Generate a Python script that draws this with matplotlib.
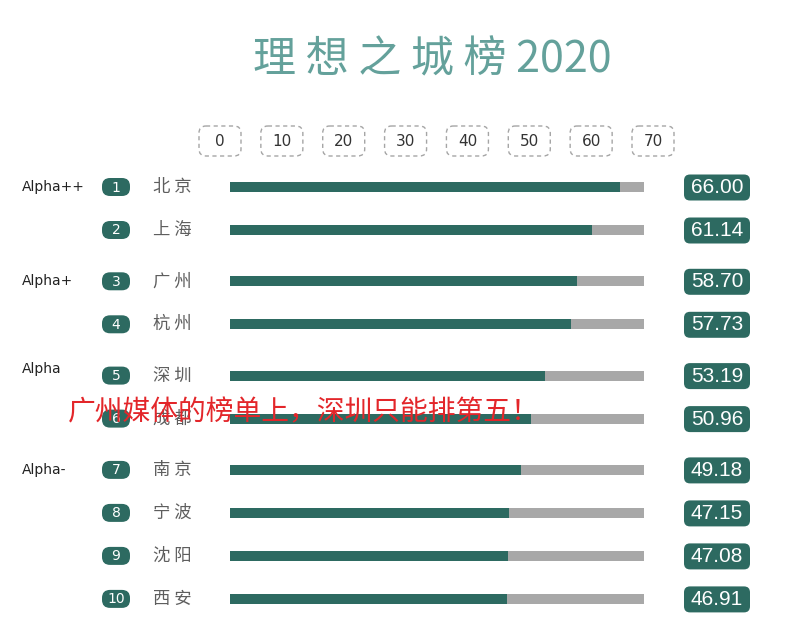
import matplotlib.pyplot as plt
from matplotlib.patches import FancyBboxPatch

plt.rcParams['font.family'] = ['Noto Sans CJK SC', 'DejaVu Sans']

# data
ranks = [1, 2, 3, 4, 5, 6, 7, 8, 9, 10]
cities = ['北 京', '上 海', '广 州', '杭 州', '深 圳', '成 都', '南 京', '宁 波', '沈 阳', '西 安']
scores = [66.00, 61.14, 58.70, 57.73, 53.19, 50.96, 49.18, 47.15, 47.08, 46.91]
groups = [0, 0, 1, 1, 2, 2, 3, 3, 3, 3]
group_names = ['Alpha++', 'Alpha+', 'Alpha', 'Alpha-']
ticks = [0, 10, 20, 30, 40, 50, 60, 70]
full_scale = 70
title = '理 想 之 城 榜 2020'
note = '广州媒体的榜单上，深圳只能排第五！'

TEAL = '#2d6a61'
GRAY = '#a8a8a8'
W, H = 799, 626

fig = plt.figure(figsize=(W / 100, H / 100), dpi=100)
fig.patch.set_facecolor('white')

# row centres in pixels (top = 0)
row_y = [187 + 43 * i + 8.3 * g for i, g in enumerate(groups)]

# bars axes: value 0 at x=230px, 70 at x=644px
ax = fig.add_axes([230 / W, 0, (644 - 230) / W, 1])
ax.set_xlim(0, full_scale)
ax.set_ylim(H, 0)
ax.axis('off')
ax.barh(row_y, [full_scale] * len(scores), height=10, color=GRAY, zorder=1)
ax.barh(row_y, scores, height=10, color=TEAL, zorder=2)

# overlay in pixel coordinates for the decorations
ov = fig.add_axes([0, 0, 1, 1], zorder=3)
ov.set_xlim(0, W)
ov.set_ylim(H, 0)
ov.axis('off')
ov.patch.set_alpha(0)

ov.text(432, 60, title, ha='center', va='center', fontsize=31,
        color='#64a19b', fontweight='light')

# dashed tick boxes (own spacing, as in the original)
for t in ticks:
    cx = 220 + t * (653 - 220) / 70
    ov.add_patch(FancyBboxPatch((cx - 18, 129), 36, 24,
                                boxstyle='round,pad=3,rounding_size=7',
                                fc='white', ec='#a5a5a5', lw=1, ls=(0, (3, 2.5))))
    ov.text(cx, 141.5, str(t), ha='center', va='center', fontsize=11,
            color='#333333', family='DejaVu Sans')

# group labels
group_y = {}
for y, g in zip(row_y, groups):
    group_y.setdefault(g, y)
for g, name in enumerate(group_names):
    dy = -7 if name == 'Alpha' else 0
    ov.text(22, group_y[g] + dy, name, ha='left', va='center', fontsize=10,
            color='#222222', family='DejaVu Sans')

for y, r, c, s in zip(row_y, ranks, cities, scores):
    # rank badge
    ov.add_patch(FancyBboxPatch((104, y - 7), 24, 14,
                                boxstyle='round,pad=2,rounding_size=8',
                                fc=TEAL, ec='none'))
    ov.text(116, y + 0.5, str(r), ha='center', va='center', fontsize=10,
            color='white', family='DejaVu Sans')
    # city name
    ov.text(172, y, c, ha='center', va='center', fontsize=12.5, color='#5e5e5e')
    # value box
    ov.add_patch(FancyBboxPatch((686, y - 10.5), 62, 22,
                                boxstyle='round,pad=2,rounding_size=6',
                                fc=TEAL, ec='none'))
    ov.text(717, y + 0.5, f'{s:.2f}', ha='center', va='center', fontsize=15,
            color='white', family=['Liberation Sans', 'DejaVu Sans'])

ov.text(68, 412, note, ha='left', va='center', fontsize=20, color='#e3262a',
        zorder=10)

fig.savefig('out.png', dpi=100)
